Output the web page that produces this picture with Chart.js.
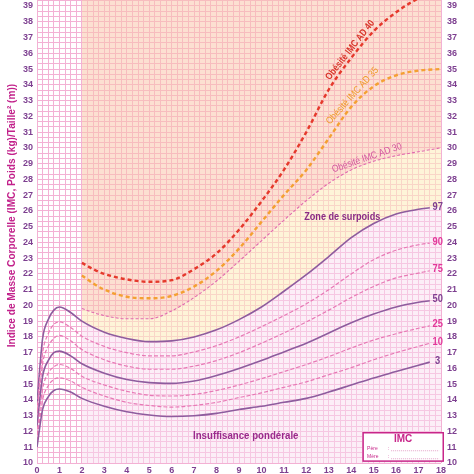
<!DOCTYPE html>
<html>
<head>
<meta charset="utf-8">
<script src="https://cdn.jsdelivr.net/npm/chart.js@4.4.1/dist/chart.umd.min.js"></script>
<style>
  html, body { margin: 0; padding: 0; background: #fff; }
  #wrap { width: 474px; height: 474px; }
</style>
</head>
<body>
<div id="wrap"><canvas id="imc" width="474" height="474"></canvas></div>
<script>
// axes
var AGE_LABELS = [0, 1, 2, 3, 4, 5, 6, 7, 8, 9, 10, 11, 12, 13, 14, 15, 16, 17, 18];
var BMI_LABELS = [10, 11, 12, 13, 14, 15, 16, 17, 18, 19, 20, 21, 22, 23, 24, 25, 26, 27, 28, 29, 30, 31, 32, 33, 34, 35, 36, 37, 38, 39];
var X_SUB = 4;   // grid lines per year
var Y_SUB = 3;   // grid lines per IMC unit

// percentile curves
var AGES_P = [0, 0.25, 0.5, 0.75, 1, 1.5, 2, 3, 4, 5, 6, 7, 8, 9, 10, 11, 12, 13, 14, 15, 16, 17, 17.5, 18];
var P3  = [11.0, 13.4, 14.2, 14.6, 14.7, 14.5, 14.1, 13.6, 13.25, 13.05, 12.95, 13.0, 13.15, 13.4, 13.6, 13.85, 14.1, 14.5, 14.95, 15.4, 15.8, 16.2, 16.4, 16.5];
var P10 = [11.4, 14.0, 14.9, 15.3, 15.4, 15.2, 14.8, 14.25, 13.85, 13.65, 13.55, 13.65, 13.85, 14.15, 14.45, 14.8, 15.15, 15.6, 16.05, 16.55, 17.0, 17.4, 17.6, 17.7];
var P25 = [11.8, 14.7, 15.7, 16.1, 16.25, 16.0, 15.5, 14.95, 14.55, 14.3, 14.25, 14.35, 14.6, 14.95, 15.35, 15.8, 16.25, 16.75, 17.3, 17.8, 18.2, 18.55, 18.7, 18.8];
var P50 = [12.3, 15.5, 16.5, 17.0, 17.1, 16.8, 16.3, 15.7, 15.3, 15.1, 15.05, 15.2, 15.55, 16.0, 16.5, 17.05, 17.6, 18.25, 18.9, 19.45, 19.9, 20.2, 20.3, 20.4];
var P75 = [12.8, 16.3, 17.4, 17.9, 18.1, 17.75, 17.2, 16.55, 16.15, 15.95, 15.95, 16.15, 16.5, 17.0, 17.6, 18.25, 18.95, 19.7, 20.5, 21.2, 21.75, 22.05, 22.2, 22.3];
var P90 = [13.3, 17.0, 18.2, 18.8, 18.95, 18.6, 18.05, 17.4, 17.0, 16.8, 16.8, 17.05, 17.45, 18.0, 18.65, 19.35, 20.1, 21.0, 22.0, 22.9, 23.5, 23.85, 23.95, 24.0];
var P97 = [13.8, 17.9, 19.1, 19.7, 19.9, 19.55, 19.0, 18.3, 17.9, 17.7, 17.75, 18.0, 18.45, 19.1, 19.9, 20.9, 21.95, 23.1, 24.3, 25.2, 25.8, 26.1, 26.2, 26.25];

// adult-equivalent obesity thresholds, from 2 years
var AGES_AD = [2, 2.5, 3, 4, 5, 6, 7, 8, 9, 10, 11, 12, 13, 14, 15, 16, 17, 18];
var AD30 = [19.8, 19.55, 19.35, 19.15, 19.15, 19.65, 20.5, 21.55, 22.8, 24.1, 25.4, 26.65, 27.75, 28.6, 29.15, 29.5, 29.75, 30.0];
var AD35 = [21.9, 21.4, 21.0, 20.55, 20.45, 20.6, 21.2, 22.2, 23.6, 25.3, 27.0, 28.6, 30.6, 32.6, 33.9, 34.6, 34.9, 35.0];
var AD40 = [22.7, 22.3, 22.0, 21.65, 21.5, 21.6, 22.3, 23.3, 24.8, 26.6, 28.6, 31.0, 33.7, 35.7, 37.4, 38.6, 39.5, 40.2];

var FONT = "'Liberation Sans Narrow', 'Liberation Sans', Arial, sans-serif";
var PURPLE = '#7d3f90';
var LINE_SOLID = '#8e5c9e';
var LINE_DASH = '#e779b5';

function pts(ages, vals, fromAge, toAge) {
	var out = [];
	for (var i = 0; i < ages.length; i++) {
		if (ages[i] >= fromAge && ages[i] <= toAge) out.push({x: ages[i], y: vals[i]});
	}
	return out;
}

function subTicks(labels, sub) {
	var t = [];
	for (var i = 0; i < labels.length; i++) {
		for (var k = 0; k < sub; k++) {
			if (i == labels.length - 1 && k > 0 && labels[i] == 18) break;
			t.push({value: labels[i] + k / sub});
		}
	}
	return t;
}

function isLabel(labels, v) {
	for (var i = 0; i < labels.length; i++) {
		if (Math.abs(labels[i] - v) < 0.001) return true;
	}
	return false;
}

function noPad(s) {
	s.paddingTop = 0; s.paddingBottom = 0; s.paddingLeft = 0; s.paddingRight = 0;
}

function line(label, data, color, width, dash) {
	return {
		label: label, data: data, borderColor: color, borderWidth: width,
		borderDash: dash, pointRadius: 0, fill: false,
		cubicInterpolationMode: 'monotone', order: 1
	};
}

function area(data, fill, color, order) {
	return {
		data: data, borderWidth: 0, borderColor: 'rgba(0,0,0,0)', pointRadius: 0,
		fill: fill, backgroundColor: color, cubicInterpolationMode: 'monotone', order: order
	};
}

var datasets = [
	area(pts(AGES_AD, AD30, 2, 18), 'end', 'rgba(250,198,172,0.55)', 10),    // 0 obesity
	area(pts(AGES_P, P97, 2, 18), 'start', 'rgba(250,222,240,0.5)', 9),      // 1 below 97
	area(pts(AGES_AD, AD30, 2, 18), 1, 'rgba(253,236,190,0.6)', 8),          // 2 surpoids
	line('3', pts(AGES_P, P3, 0, 17.5), LINE_SOLID, 1.6, []),
	line('10', pts(AGES_P, P10, 0, 17.5), LINE_DASH, 1.2, [4, 2]),
	line('25', pts(AGES_P, P25, 0, 17.5), LINE_DASH, 1.2, [4, 2]),
	line('50', pts(AGES_P, P50, 0, 17.5), LINE_SOLID, 1.6, []),
	line('75', pts(AGES_P, P75, 0, 17.5), LINE_DASH, 1.2, [4, 2]),
	line('90', pts(AGES_P, P90, 0, 17.5), LINE_DASH, 1.2, [4, 2]),
	line('97', pts(AGES_P, P97, 0, 17.5), LINE_SOLID, 1.6, []),
	line('AD30', pts(AGES_AD, AD30, 2, 18), '#e06aae', 1.1, [3, 2]),
	line('AD35', pts(AGES_AD, AD35, 2, 18), '#f4a032', 2.4, [4, 3]),
	line('AD40', pts(AGES_AD, AD40, 2, 18), '#e5392c', 2.4, [4, 3])
];

var PCT_TEXT = [
	{t: '97', v: P97, c: PURPLE},
	{t: '90', v: P90, c: '#e2379a'},
	{t: '75', v: P75, c: '#e2379a'},
	{t: '50', v: P50, c: PURPLE},
	{t: '25', v: P25, c: '#e2379a'},
	{t: '10', v: P10, c: '#e2379a'},
	{t: '3', v: P3, c: PURPLE}
];

var bg = {
	id: 'bg',
	beforeDraw: function(chart) {
		var c = chart.ctx;
		c.save();
		c.fillStyle = '#fff';
		c.fillRect(0, 0, chart.width, chart.height);
		c.restore();
	}
};

// sx squeezes the text along its baseline (the print uses a narrow face)
function rotText(c, txt, px, py, deg, font, color, sx) {
	c.save();
	c.translate(px, py);
	c.rotate(deg * Math.PI / 180);
	c.scale(sx || 1, 1);
	c.font = font;
	c.fillStyle = color;
	c.textAlign = 'center';
	c.textBaseline = 'middle';
	c.fillText(txt, 0, 0);
	c.restore();
}

var notes = {
	id: 'notes',
	afterDatasetsDraw: function(chart) {
		var c = chart.ctx;
		var x = chart.scales.x, y = chart.scales.y;

		// percentile names at the end of the curves
		PCT_TEXT.forEach(function(p) {
			rotText(c, p.t, x.getPixelForValue(17.85), y.getPixelForValue(p.v[p.v.length - 1]), 0,
				'bold 11px ' + FONT, p.c, 0.85);
		});

		rotText(c, 'Obésité IMC AD 40', x.getPixelForValue(13.95), y.getPixelForValue(36.2), -52,
			'bold 10px ' + FONT, '#d8352a', 0.82);
		rotText(c, 'Obésité IMC AD 35', x.getPixelForValue(14.05), y.getPixelForValue(33.3), -48,
			'10px ' + FONT, '#ef9a2a', 0.85);
		rotText(c, 'Obésité IMC AD 30', x.getPixelForValue(14.7), y.getPixelForValue(29.35), -19,
			'10px ' + FONT, '#d2569f', 0.85);

		rotText(c, 'Zone de surpoids', x.getPixelForValue(13.6), y.getPixelForValue(25.6), 0,
			'bold 11px ' + FONT, '#8a2c86', 0.83);
		rotText(c, 'Insuffisance pondérale', x.getPixelForValue(9.3), y.getPixelForValue(11.7), 0,
			'bold 11px ' + FONT, '#9a2a8c', 0.88);

		// IMC box
		var l = x.getPixelForValue(14.53), r = x.getPixelForValue(18.1);
		var t = y.getPixelForValue(11.92), b = y.getPixelForValue(10.12);
		c.save();
		c.fillStyle = '#fff';
		c.fillRect(l, t, r - l, b - t);
		c.strokeStyle = '#c8268a';
		c.lineWidth = 1.5;
		c.strokeRect(l, t, r - l, b - t);
		c.fillStyle = '#c8268a';
		c.font = 'bold 10px ' + FONT;
		c.textAlign = 'center';
		c.textBaseline = 'middle';
		c.fillText('IMC', (l + r) / 2, t + 7);
		c.font = '5px ' + FONT;
		c.textAlign = 'left';
		c.fillText('Père', l + 4, t + 16);
		c.fillText('Mère', l + 4, t + 24);
		c.fillText(':', l + 25, t + 16);
		c.fillText(':', l + 25, t + 24);
		c.strokeStyle = '#d46aa8';
		c.lineWidth = 0.6;
		c.setLineDash([1, 1]);
		c.beginPath();
		c.moveTo(l + 28, t + 18); c.lineTo(r - 4, t + 18);
		c.moveTo(l + 28, t + 26); c.lineTo(r - 4, t + 26);
		c.stroke();
		c.restore();

		// y axis title
		rotText(c, 'Indice de Masse Corporelle (IMC, Poids (kg)/Taille² (m))', 12, y.getPixelForValue(25.7), -90,
			'bold 11px ' + FONT, '#c2218b', 0.92);
	}
};

var GRID = '#f3b1d4';

var ctx = document.getElementById('imc');
var chart = new Chart(ctx, {
	type: 'line',
	data: {datasets: datasets},
	plugins: [bg, notes],
	options: {
		responsive: false,
		animation: false,
		layout: {padding: 0},
		plugins: {legend: {display: false}, tooltip: {enabled: false}},
		scales: {
			x: {
				type: 'linear', min: 0, max: 18,
				afterBuildTicks: function(s) { s.ticks = subTicks(AGE_LABELS, X_SUB); },
				afterFit: function(s) { s.height = 11; noPad(s); },
				grid: {color: GRID, lineWidth: 1, drawTicks: false},
				border: {display: false},
				ticks: {
					autoSkip: false, maxRotation: 0, padding: 2, color: PURPLE,
					font: {family: FONT, size: 9, weight: 'bold'},
					callback: function(v) { return isLabel(AGE_LABELS, v) ? String(Math.round(v)) : ''; }
				}
			},
			y: {
				type: 'linear', position: 'left', min: 10, max: 39.38,
				afterBuildTicks: function(s) { s.ticks = subTicks(BMI_LABELS, Y_SUB); },
				afterFit: function(s) { s.width = 37; noPad(s); },
				grid: {color: GRID, lineWidth: 1, drawTicks: false},
				border: {display: false},
				ticks: {
					autoSkip: false, padding: 4, color: PURPLE,
					font: {family: FONT, size: 9, weight: 'bold'},
					callback: function(v) { return isLabel(BMI_LABELS, v) ? String(Math.round(v)) : ''; }
				}
			},
			y2: {
				type: 'linear', position: 'right', min: 10, max: 39.38,
				afterBuildTicks: function(s) { s.ticks = subTicks(BMI_LABELS, Y_SUB); },
				afterFit: function(s) { s.width = 33; noPad(s); },
				grid: {display: false, drawTicks: false},
				border: {display: false},
				ticks: {
					autoSkip: false, padding: 6, color: PURPLE,
					font: {family: FONT, size: 9, weight: 'bold'},
					callback: function(v) { return isLabel(BMI_LABELS, v) ? String(Math.round(v)) : ''; }
				}
			}
		}
	}
});
</script>
</body>
</html>
